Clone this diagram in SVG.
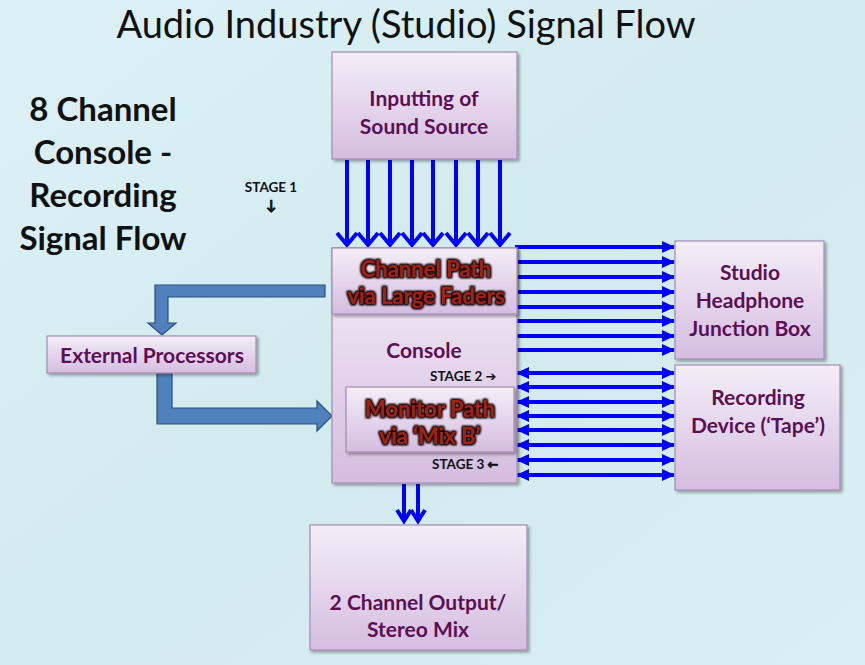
<svg xmlns="http://www.w3.org/2000/svg" width="865" height="665" viewBox="0 0 865 665">
<defs>
<linearGradient id="bg" x1="0" y1="0" x2="1" y2="1">
<stop offset="0" stop-color="#dcf1f5"/><stop offset="0.5" stop-color="#d2ebef"/><stop offset="1" stop-color="#d9eff3"/>
</linearGradient>
<linearGradient id="box" x1="0" y1="0" x2="0" y2="1">
<stop offset="0" stop-color="#f4eef8"/><stop offset="1" stop-color="#d5bde0"/>
</linearGradient>
<filter id="sh" x="-10%" y="-10%" width="125%" height="130%">
<feDropShadow dx="2" dy="2" stdDeviation="1.5" flood-color="#000" flood-opacity="0.35"/>
</filter>
<filter id="glow" x="-10%" y="-30%" width="120%" height="160%">
<feMorphology in="SourceAlpha" operator="dilate" radius="1.3" result="d"/>
<feGaussianBlur in="d" stdDeviation="1.3" result="b"/>
<feFlood flood-color="#1a0505"/>
<feComposite in2="b" operator="in" result="g"/>
<feMerge><feMergeNode in="g"/><feMergeNode in="g"/><feMergeNode in="SourceGraphic"/></feMerge>
</filter>
<marker id="tri" markerUnits="userSpaceOnUse" markerWidth="14" markerHeight="14" refX="12" refY="7" viewBox="0 0 14 14" orient="auto-start-reverse">
<path d="M0,1 L13,7 L0,13 Z" fill="#0000ff"/>
</marker>
<style>
.t{font-family:Lato,"Open Sans","Liberation Sans",sans-serif}
.bx{fill:url(#box);stroke:#a58bb3;stroke-width:1.2;filter:url(#sh)}
.lbl{font-family:Lato,"Open Sans","Liberation Sans",sans-serif;font-weight:bold;font-size:21px;fill:#5c0f55;text-anchor:middle}
.red{font-family:Lato,"Open Sans","Liberation Sans",sans-serif;font-weight:bold;font-size:22px;fill:#9e2418;text-anchor:middle;filter:url(#glow)}
.stg{font-family:Lato,"Open Sans","Liberation Sans",sans-serif;font-weight:bold;font-size:13.5px;fill:#111}
.bl{stroke:#0000ff;stroke-width:4;fill:none}
.big{fill:#4f81bd;stroke:#2c4f7a;stroke-width:1.2}
</style>
</defs>
<rect width="865" height="665" fill="url(#bg)"/>
<g id="title"><text class="t" x="406" y="38" font-size="38" fill="#111" text-anchor="middle">Audio Industry (Studio) Signal Flow</text></g>
<g id="heading" class="t" font-weight="bold" font-size="33" fill="#111" text-anchor="middle">
<text x="103" y="121">8 Channel</text>
<text x="103" y="164">Console -</text>
<text x="103" y="207">Recording</text>
<text x="103" y="250">Signal Flow</text>
</g>
<g id="stage1"><text class="stg" x="271" y="192" text-anchor="middle">STAGE 1</text><text class="stg" x="271" y="210" text-anchor="middle" font-size="15" font-family="DejaVu Sans" stroke="#111" stroke-width="0.8">↓</text></g>

<g id="connectors">
<g class="bl">
<path d="M347,160 V245 M337,233 L347,245 L357,233"/>
<path d="M368,160 V245 M358,233 L368,245 L378,233"/>
<path d="M390,160 V245 M380,233 L390,245 L400,233"/>
<path d="M412,160 V245 M402,233 L412,245 L422,233"/>
<path d="M433,160 V245 M423,233 L433,245 L443,233"/>
<path d="M456,160 V245 M446,233 L456,245 L466,233"/>
<path d="M478,160 V245 M468,233 L478,245 L488,233"/>
<path d="M500,160 V245 M490,233 L500,245 L510,233"/>
<path d="M404,484 V521 M397,510 L404,521 L411,510"/>
<path d="M418,484 V521 M411,510 L418,521 L425,510"/>
</g>
<g class="bl" marker-end="url(#tri)">
<line x1="515" y1="247" x2="674" y2="247"/>
<line x1="517" y1="262" x2="674" y2="262"/>
<line x1="517" y1="277" x2="674" y2="277"/>
<line x1="517" y1="292" x2="674" y2="292"/>
<line x1="517" y1="307" x2="674" y2="307"/>
<line x1="513" y1="321" x2="674" y2="321"/>
<line x1="513" y1="336" x2="674" y2="336"/>
<line x1="513" y1="350" x2="674" y2="350"/>
</g>
<g class="bl" marker-end="url(#tri)" marker-start="url(#tri)">
<line x1="517" y1="373" x2="674" y2="373"/>
<line x1="517" y1="387" x2="674" y2="387"/>
<line x1="517" y1="402" x2="674" y2="402"/>
<line x1="517" y1="416" x2="674" y2="416"/>
<line x1="517" y1="430" x2="674" y2="430"/>
<line x1="517" y1="445" x2="674" y2="445"/>
<line x1="517" y1="460" x2="674" y2="460"/>
<line x1="517" y1="475" x2="674" y2="475"/>
</g>
<path class="big" d="M325,285 H155 V323 H148 L162,335 L176,323 H168 V297 H325 Z"/>
<path class="big" d="M157,373 H172 V408 H317 V401 L332,416 L317,431 V424 H157 Z"/>
</g>

<g id="input"><rect class="bx" x="332" y="52" width="185" height="107"/>
<text class="lbl" x="424" y="106">Inputting of</text><text class="lbl" x="424" y="134">Sound Source</text></g>

<g id="console"><rect class="bx" x="332" y="248" width="185" height="235"/>
<text class="lbl" x="424" y="358" font-size="20">Console</text>
<text class="stg" x="430" y="381">STAGE 2 <tspan font-family="DejaVu Sans" font-size="13">➔</tspan></text>
<text class="stg" x="432" y="469">STAGE 3 <tspan font-family="DejaVu Sans" font-size="13" stroke="#111" stroke-width="0.7">←</tspan></text></g>

<g id="channel-path"><rect class="bx" x="332" y="248" width="185" height="66"/>
<text class="red" x="426" y="277">Channel Path</text><text class="red" x="426" y="304">via Large Faders</text></g>

<g id="monitor-path"><rect class="bx" x="346" y="387" width="168" height="65"/>
<text class="red" x="430" y="417">Monitor Path</text><text class="red" x="430" y="444">via ‘Mix B’</text></g>

<g id="headphone"><rect class="bx" x="675" y="241" width="149" height="118"/>
<text class="lbl" x="750" y="280">Studio</text><text class="lbl" x="750" y="308">Headphone</text><text class="lbl" x="750" y="336">Junction Box</text></g>

<g id="recording"><rect class="bx" x="675" y="365" width="165" height="125"/>
<text class="lbl" x="758" y="405">Recording</text><text class="lbl" x="758" y="433">Device (‘Tape’)</text></g>

<g id="external"><rect class="bx" x="47" y="336" width="209" height="37"/>
<text class="lbl" x="152" y="363" font-size="20">External Processors</text></g>

<g id="output"><rect class="bx" x="310" y="525" width="217" height="125"/>
<text class="lbl" x="418" y="610">2 Channel Output/</text><text class="lbl" x="418" y="637">Stereo Mix</text></g>
</svg>
